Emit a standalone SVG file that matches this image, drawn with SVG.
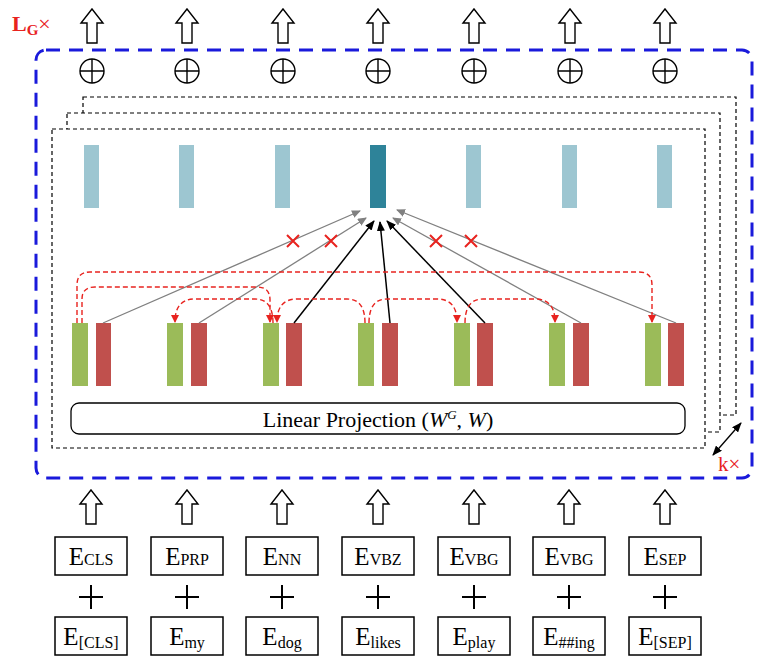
<svg xmlns="http://www.w3.org/2000/svg" xmlns:xlink="http://www.w3.org/1999/xlink" width="763" height="669" viewBox="0 0 763 669">
<style>
.t{font-family:"Liberation Serif",serif;fill:#000}
.box{fill:#fff;stroke:#000;stroke-width:1.5}
.lb{fill:#9dc6d1}.g{fill:#9bbb59}.r{fill:#c0504d}
.fr{fill:#fff;stroke:#000;stroke-width:1.2;stroke-dasharray:4 3}
.rd{fill:none;stroke:#e8231f;stroke-width:1.4;stroke-dasharray:5 3;marker-end:url(#ra)}
.gl{stroke:#808080;stroke-width:1.3;marker-end:url(#ga)}
.bl{stroke:#000;stroke-width:1.5;marker-end:url(#ba)}
.x{stroke:#e8231f;stroke-width:2}
</style>
<defs>
<path id="ua" d="M0,0 L11,14 L5,14 L5,34 L-5,34 L-5,14 L-11,14 Z" fill="#fff" stroke="#000" stroke-width="1.4"/>
<g id="op"><circle r="12" fill="#fff" stroke="#000" stroke-width="1.4"/><path d="M-12,0H12M0,-12V12" stroke="#000" stroke-width="1.4"/></g>
<path id="pl" d="M-12,0H12M0,-12V12" stroke="#000" stroke-width="2"/>
<g id="cx"><path d="M-6,-6L6,6M-6,6L6,-6" class="x"/></g>
<marker id="ra" markerWidth="8" markerHeight="8" refX="7" refY="4" orient="auto" markerUnits="userSpaceOnUse"><path d="M0,0L8,4L0,8Z" fill="#e8231f"/></marker>
<marker id="ga" markerWidth="9" markerHeight="8" refX="8" refY="4" orient="auto" markerUnits="userSpaceOnUse"><path d="M0,0L9,4L0,8Z" fill="#808080"/></marker>
<marker id="ba" markerWidth="10" markerHeight="8" refX="9" refY="4" orient="auto" markerUnits="userSpaceOnUse"><path d="M0,0L10,4L0,8Z" fill="#000"/></marker>
<marker id="bs" markerWidth="10" markerHeight="8" refX="1" refY="4" orient="auto" markerUnits="userSpaceOnUse"><path d="M10,0L0,4L10,8Z" fill="#000"/></marker>
</defs>
<rect width="763" height="669" fill="#fff"/>

<g id="top-arrows">
<use xlink:href="#ua" x="92" y="9"/><use xlink:href="#ua" x="187" y="9"/><use xlink:href="#ua" x="283" y="9"/><use xlink:href="#ua" x="378" y="9"/><use xlink:href="#ua" x="474" y="9"/><use xlink:href="#ua" x="570" y="9"/><use xlink:href="#ua" x="665" y="9"/>
</g>
<text x="12" y="31" class="t" style="fill:#e8231f;font-weight:bold;font-size:22px">L<tspan font-size="15" dy="4">G</tspan><tspan dy="-4" font-weight="normal">×</tspan></text>

<g id="layer-box">
<rect x="36" y="50" width="716" height="428" rx="10" fill="none" stroke="#1a1adb" stroke-width="3" stroke-dasharray="14 9"/>
</g>
<g id="adds">
<use xlink:href="#op" x="92" y="71"/><use xlink:href="#op" x="187" y="71"/><use xlink:href="#op" x="283" y="71"/><use xlink:href="#op" x="378" y="71"/><use xlink:href="#op" x="474" y="71"/><use xlink:href="#op" x="570" y="71"/><use xlink:href="#op" x="665" y="71"/>
</g>
<g id="frames">
<rect x="83" y="97" width="653" height="318" class="fr"/>
<rect x="67" y="113" width="653" height="319" class="fr"/>
<rect x="52" y="129" width="653" height="319" class="fr"/>
</g>
<g id="outputs">
<rect x="84" y="145" width="15" height="63" class="lb"/><rect x="179" y="145" width="15" height="63" class="lb"/><rect x="275" y="145" width="15" height="63" class="lb"/><rect x="370" y="145" width="16" height="63" fill="#2e8399"/><rect x="466" y="145" width="15" height="63" class="lb"/><rect x="562" y="145" width="15" height="63" class="lb"/><rect x="657" y="145" width="15" height="63" class="lb"/>
</g>
<g id="inputs">
<rect x="72" y="323" width="16" height="63" class="g"/><rect x="96" y="323" width="15" height="63" class="r"/>
<rect x="167" y="323" width="16" height="63" class="g"/><rect x="191" y="323" width="16" height="63" class="r"/>
<rect x="263" y="323" width="16" height="63" class="g"/><rect x="286" y="323" width="16" height="63" class="r"/>
<rect x="358" y="323" width="16" height="63" class="g"/><rect x="382" y="323" width="16" height="63" class="r"/>
<rect x="454" y="323" width="16" height="63" class="g"/><rect x="477" y="323" width="16" height="63" class="r"/>
<rect x="549" y="323" width="16" height="63" class="g"/><rect x="573" y="323" width="16" height="63" class="r"/>
<rect x="645" y="323" width="16" height="63" class="g"/><rect x="668" y="323" width="16" height="63" class="r"/>
</g>
<g id="linear-projection">
<rect x="71" y="403" width="614" height="31" rx="8" fill="#fff" stroke="#000" stroke-width="1.3"/>
<text x="378" y="427" text-anchor="middle" class="t" font-size="22">Linear Projection (<tspan font-style="italic">W</tspan><tspan font-style="italic" font-size="13" dy="-8">G</tspan><tspan dy="8">, </tspan><tspan font-style="italic">W</tspan>)</text>
</g>
<g id="connectors">
<line x1="103" y1="323" x2="360" y2="211" class="gl"/>
<line x1="199" y1="323" x2="366" y2="218" class="gl"/>
<line x1="294" y1="323" x2="374" y2="221" class="bl"/>
<line x1="390" y1="323" x2="380" y2="222" class="bl"/>
<line x1="485" y1="323" x2="387" y2="221" class="bl"/>
<line x1="581" y1="323" x2="393" y2="218" class="gl"/>
<line x1="676" y1="323" x2="397" y2="210" class="gl"/>
<use xlink:href="#cx" x="293" y="241"/><use xlink:href="#cx" x="331" y="241"/><use xlink:href="#cx" x="436" y="241"/><use xlink:href="#cx" x="471" y="241"/>
<path d="M77,323 V285 Q77,272 90,272 H639 Q652,272 652,285 V322" class="rd"/>
<path d="M82,323 V299 Q82,287 95,287 H257 Q270,287 270,300 V322" class="rd"/>
<path d="M273,323 Q273,299 255,299 H195 Q175,299 175,322" class="rd"/>
<path d="M365,323 Q365,299 347,299 H297 Q277,299 277,322" class="rd"/>
<path d="M369,323 Q369,299 387,299 H437 Q457,299 457,322" class="rd"/>
<path d="M465,323 Q465,299 483,299 H535 Q555,299 555,322" class="rd"/>
<line x1="713" y1="455" x2="741" y2="423" stroke="#000" stroke-width="1.3" marker-start="url(#bs)" marker-end="url(#ba)"/>
</g>
<text x="718" y="471" class="t" style="fill:#e8231f;font-size:21px">k×</text>

<g id="bottom-arrows">
<use xlink:href="#ua" x="91" y="490"/><use xlink:href="#ua" x="187" y="490"/><use xlink:href="#ua" x="282" y="490"/><use xlink:href="#ua" x="378" y="490"/><use xlink:href="#ua" x="474" y="490"/><use xlink:href="#ua" x="569" y="490"/><use xlink:href="#ua" x="665" y="490"/>
</g>
<g id="pos-embeddings" class="t" font-size="25" text-anchor="middle">
<rect x="55" y="537" width="72" height="38" class="box"/><text x="91" y="565">E<tspan font-size="16">CLS</tspan></text>
<rect x="151" y="537" width="72" height="38" class="box"/><text x="187" y="565">E<tspan font-size="16">PRP</tspan></text>
<rect x="246" y="537" width="72" height="38" class="box"/><text x="282" y="565">E<tspan font-size="16">NN</tspan></text>
<rect x="342" y="537" width="72" height="38" class="box"/><text x="378" y="565">E<tspan font-size="16">VBZ</tspan></text>
<rect x="438" y="537" width="72" height="38" class="box"/><text x="474" y="565">E<tspan font-size="16">VBG</tspan></text>
<rect x="533" y="537" width="72" height="38" class="box"/><text x="569" y="565">E<tspan font-size="16">VBG</tspan></text>
<rect x="629" y="537" width="72" height="38" class="box"/><text x="665" y="565">E<tspan font-size="16">SEP</tspan></text>
</g>
<g id="plus">
<use xlink:href="#pl" x="91" y="597"/><use xlink:href="#pl" x="187" y="597"/><use xlink:href="#pl" x="282" y="597"/><use xlink:href="#pl" x="378" y="597"/><use xlink:href="#pl" x="474" y="597"/><use xlink:href="#pl" x="569" y="597"/><use xlink:href="#pl" x="665" y="597"/>
</g>
<g id="token-embeddings" class="t" font-size="25" text-anchor="middle">
<rect x="55" y="617" width="72" height="38" class="box"/><text x="91" y="645">E<tspan font-size="16" dy="3">[CLS]</tspan></text>
<rect x="151" y="617" width="72" height="38" class="box"/><text x="187" y="645">E<tspan font-size="16" dy="3">my</tspan></text>
<rect x="246" y="617" width="72" height="38" class="box"/><text x="282" y="645">E<tspan font-size="16" dy="3">dog</tspan></text>
<rect x="342" y="617" width="72" height="38" class="box"/><text x="378" y="645">E<tspan font-size="16" dy="3">likes</tspan></text>
<rect x="438" y="617" width="72" height="38" class="box"/><text x="474" y="645">E<tspan font-size="16" dy="3">play</tspan></text>
<rect x="533" y="617" width="72" height="38" class="box"/><text x="569" y="645">E<tspan font-size="16" dy="3">##ing</tspan></text>
<rect x="629" y="617" width="72" height="38" class="box"/><text x="665" y="645">E<tspan font-size="16" dy="3">[SEP]</tspan></text>
</g>
</svg>
